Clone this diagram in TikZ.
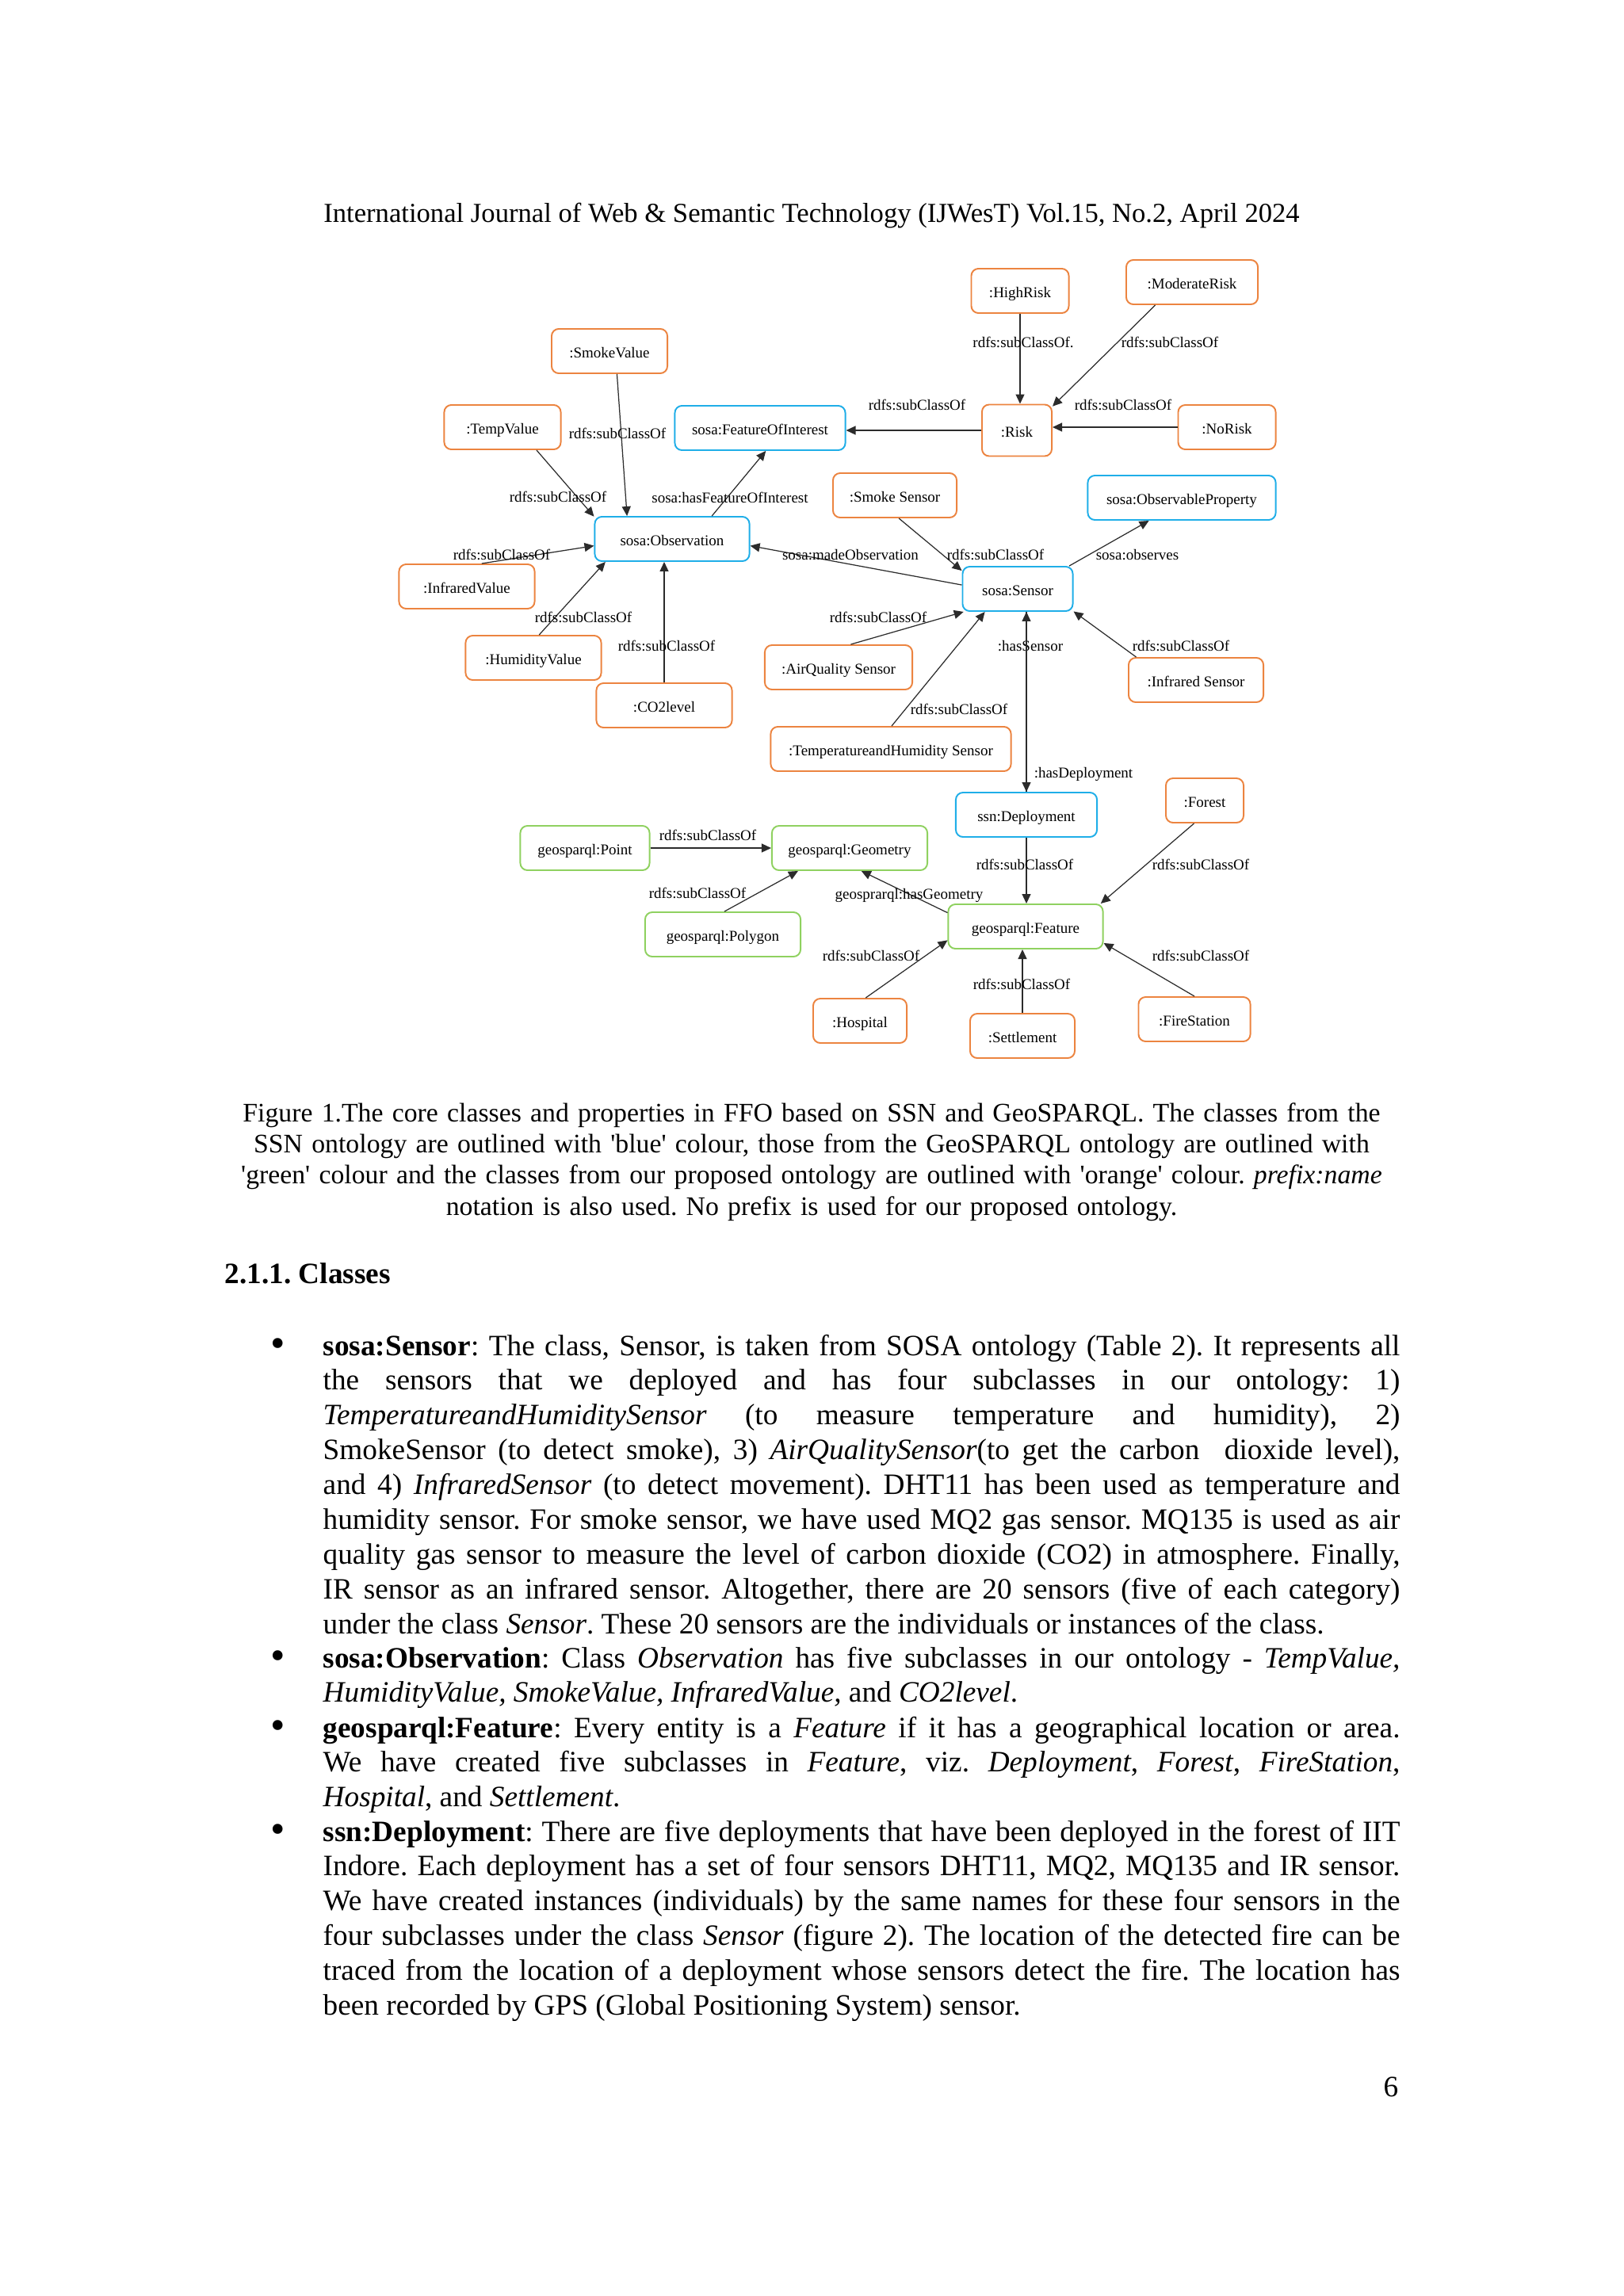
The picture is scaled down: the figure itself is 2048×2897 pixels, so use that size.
\documentclass[tikz,border=0pt]{standalone}
\usepackage{fontspec}
\setmainfont{Liberation Serif}
\usetikzlibrary{arrows.meta,calc}
\frenchspacing
\definecolor{Ssn}{HTML}{1FAEE8}
\definecolor{Geo}{HTML}{8FD160}
\definecolor{Ffo}{HTML}{EC8440}
\definecolor{Edge}{HTML}{2B2B2B}
\newcommand{\dgm}{\fontsize{5.4}{6.2}\selectfont}
\newcommand{\bodyfont}{\fontsize{10.6}{12.5}\selectfont}
\newcommand{\capfont}{\fontsize{9.6}{11.2}\selectfont}
\newcommand{\headfont}{\fontsize{9.85}{11.5}\selectfont}
\tikzset{
  cls/.style={draw,line width=0.55pt,rounded corners=0.9mm,fill=white,align=center,inner sep=1pt,minimum height=5.6mm,font=\dgm,text height=1.45ex,text depth=.35ex},
  ssn/.style={cls,draw=Ssn},
  geo/.style={cls,draw=Geo},
  ffo/.style={cls,draw=Ffo},
  arr/.style={-{Triangle[length=1.2mm,width=1.1mm]},line width=0.35pt,draw=Edge},
  lbl/.style={font=\dgm,inner sep=0pt,text=black,text height=1.45ex,text depth=.35ex},
  para/.style={anchor=base west,inner sep=0pt,text width=13.58cm,align=justify,font=\bodyfont,
    execute at begin node={\hyphenpenalty=10000 \tolerance=10000}},
  dot/.style={anchor=base,inner sep=0pt,font=\fontsize{15}{15}\selectfont},
}

\begin{document}
\begin{tikzpicture}[x=0.01cm,y=-0.01cm,line join=round]
\useasboundingbox[fill=white] (0,0) rectangle (2048,2897);
\node[anchor=base,inner sep=0pt,font=\headfont] (head) at (1024,280) {International Journal of Web \& Semantic Technology (IJWesT) Vol.15, No.2, April 2024};

\node[ffo,minimum width=14.6mm] (smokev) at (769,443) {:SmokeValue};
\node[ffo,minimum width=14.7mm] (tempv) at (634,539) {:TempValue};
\node[ssn,minimum width=21.5mm] (foi) at (959,540) {sosa:FeatureOfInterest};
\node[ssn,minimum width=19.5mm] (obs) at (848,680) {sosa:Observation};
\node[ffo,minimum width=17.1mm] (infrav) at (589,740) {:InfraredValue};
\node[ffo,minimum width=17.1mm] (humv) at (673,830) {:HumidityValue};
\node[ffo,minimum width=17.1mm] (co2) at (838,890) {:CO2level};
\node[ffo,minimum width=12.3mm] (highrisk) at (1287,367) {:HighRisk};
\node[ffo,minimum width=16.6mm] (modrisk) at (1504,356) {:ModerateRisk};
\node[ffo,minimum width=8.8mm,minimum height=6.5mm] (risk) at (1283,543) {:Risk};
\node[ffo,minimum width=12.3mm] (norisk) at (1548,539) {:NoRisk};
\node[ffo,minimum width=15.6mm] (smokes) at (1129,625) {:Smoke Sensor};
\node[ssn,minimum width=23.7mm] (obsprop) at (1491,628) {sosa:ObservableProperty};
\node[ssn,minimum width=13.9mm] (sensor) at (1284,743) {sosa:Sensor};
\node[ffo,minimum width=18.6mm] (airq) at (1058,842) {:AirQuality Sensor};
\node[ffo,minimum width=17mm] (irs) at (1509,858) {:Infrared Sensor};
\node[ffo,minimum width=30.3mm] (ths) at (1124,945) {:TemperatureandHumidity Sensor};
\node[ssn,minimum width=17.8mm] (deploy) at (1295,1028) {ssn:Deployment};
\node[ffo,minimum width=9.8mm] (forest) at (1520,1010) {:Forest};
\node[geo,minimum width=16.3mm] (point) at (738,1070) {geosparql:Point};
\node[geo,minimum width=19.6mm] (geom) at (1072,1070) {geosparql:Geometry};
\node[geo,minimum width=19.6mm] (polygon) at (912,1179) {geosparql:Polygon};
\node[geo,minimum width=19.5mm] (feature) at (1294,1169) {geosparql:Feature};
\node[ffo,minimum width=11.8mm] (hospital) at (1085,1288) {:Hospital};
\node[ffo,minimum width=13.2mm] (settle) at (1290,1307) {:Settlement};
\node[ffo,minimum width=14.1mm] (firest) at (1507,1286) {:FireStation};

\draw[arr] (smokev.288) -- (obs.153) node[lbl] (l1) at (779,545) {rdfs:subClassOf};
\draw[arr] (tempv.326) -- (obs.164) node[lbl] (l2) at (704,625) {rdfs:subClassOf};
\draw[arr] (infrav.57) -- (obs.185) node[lbl] (l3) at (633,698) {rdfs:subClassOf};
\draw[arr] (humv.76) -- (obs.199) node[lbl] (l4) at (736,777) {rdfs:subClassOf};
\draw[arr] (co2.north) -- (co2.north |- obs.south) node[lbl] (l5) at (841,813) {rdfs:subClassOf};
\draw[arr] (obs.30) -- (foi.284) node[lbl] (l6) at (921,626) {sosa:hasFeatureOfInterest};
\draw[arr] (sensor.176) -- (obs.355) node[lbl] (l7) at (1073,698) {sosa:madeObservation};
\draw[arr] (risk.west) -- (risk.west -| foi.east) node[lbl] (l8) at (1157,509) {rdfs:subClassOf};
\draw[arr] (highrisk.south) -- (highrisk.south |- risk.north) node[lbl] (l9) at (1291,430) {rdfs:subClassOf.};
\draw[arr] (modrisk.212) -- (risk.34) node[lbl] (l10) at (1476,430) {rdfs:subClassOf};
\draw[arr] (norisk.west) -- (norisk.west -| risk.east) node[lbl] (l11) at (1417,509) {rdfs:subClassOf};
\draw[arr] (smokes.280) -- (sensor.162) node[lbl] (l12) at (1256,698) {rdfs:subClassOf};
\draw[arr] (sensor.24) -- (obsprop.215) node[lbl] (l13) at (1435,698) {sosa:observes};
\draw[arr] (airq.62) -- (sensor.203) node[lbl] (l14) at (1108,777) {rdfs:subClassOf};
\draw[arr] (ths.88) -- (sensor.215) node[lbl] (l15) at (1210,893) {rdfs:subClassOf};
\draw[arr] (deploy.north) -- (deploy.north |- sensor.south) node[lbl] (l16) at (1300,813) {:hasSensor};
\draw[arr] (deploy.north |- sensor.south) -- (deploy.north) node[lbl] (l17) at (1367,973) {:hasDeployment};
\draw[arr] (irs.159) -- (sensor.338) node[lbl] (l18) at (1490,813) {rdfs:subClassOf};
\draw[arr] (deploy.south) -- (deploy.south |- feature.north) node[lbl] (l19) at (1293,1089) {rdfs:subClassOf};
\draw[arr] (forest.245) -- (feature.17) node[lbl] (l20) at (1515,1089) {rdfs:subClassOf};
\draw[arr] (feature.170) -- (geom.297) node[lbl] (l21) at (1147,1126) {geosprarql:hasGeometry};
\draw[arr] (point.east) -- (point.east -| geom.west) node[lbl] (l22) at (893,1052) {rdfs:subClassOf};
\draw[arr] (polygon.86) -- (geom.204) node[lbl] (l23) at (880,1125) {rdfs:subClassOf};
\draw[arr] (hospital.76) -- (feature.190) node[lbl] (l24) at (1099,1204) {rdfs:subClassOf};
\draw[arr] (settle.north) -- (settle.north |- feature.south) node[lbl] (l25) at (1289,1240) {rdfs:subClassOf};
\draw[arr] (firest.north) -- (feature.348) node[lbl] (l26) at (1515,1204) {rdfs:subClassOf};

\node[anchor=base,inner sep=0pt,text width=14.6cm,align=center,font=\capfont] (caption) at (1024,1415) {Figure 1.The core classes and properties in FFO based on SSN and GeoSPARQL. The classes from the\\ SSN ontology are outlined with \textquotesingle blue\textquotesingle\ colour, those from the GeoSPARQL ontology are outlined with\\ \textquotesingle green\textquotesingle\ colour and the classes from our proposed ontology are outlined with \textquotesingle orange\textquotesingle\ colour. \textit{prefix:name}\\ notation is also used. No prefix is used for our proposed ontology.};

\node[anchor=base west,inner sep=0pt,font=\bodyfont\bfseries] (sec) at (283,1619) {2.1.1. Classes};

\node[dot] (d1) at (351,1712) {\textbullet};
\node[para] (p1) at (407,1710) {\textbf{sosa:Sensor}: The class, Sensor, is taken from SOSA ontology (Table 2). It represents all\linebreak the sensors that we deployed and has four subclasses in our ontology: 1)\linebreak \textit{TemperatureandHumiditySensor} (to measure temperature and humidity), 2)\linebreak SmokeSensor (to detect smoke), 3) \textit{AirQualitySensor}(to get the carbon~ dioxide level),\linebreak and 4) \textit{InfraredSensor} (to detect movement). DHT11 has been used as temperature and\linebreak humidity sensor. For smoke sensor, we have used MQ2 gas sensor. MQ135 is used as air\linebreak quality gas sensor to measure the level of carbon dioxide (CO2) in atmosphere. Finally,\linebreak IR sensor as an infrared sensor. Altogether, there are 20 sensors (five of each category)\linebreak under the class \textit{Sensor}. These 20 sensors are the individuals or instances of the class.};

\node[dot] (d2) at (351,2106) {\textbullet};
\node[para] (p2) at (407,2104) {\textbf{sosa:Observation}: Class \textit{Observation} has five subclasses in our ontology - \textit{TempValue,}\linebreak \textit{HumidityValue, SmokeValue, InfraredValue,} and \textit{CO2level}.};

\node[dot] (d3) at (351,2194) {\textbullet};
\node[para] (p3) at (407,2192) {\textbf{geosparql:Feature}: Every entity is a \textit{Feature} if it has a geographical location or area.\linebreak We have created five subclasses in \textit{Feature}, viz. \textit{Deployment}, \textit{Forest}, \textit{FireStation},\linebreak \textit{Hospital}, and \textit{Settlement}.};

\node[dot] (d4) at (351,2325) {\textbullet};
\node[para] (p4) at (407,2323) {\textbf{ssn:Deployment}: There are five deployments that have been deployed in the forest of IIT\linebreak Indore. Each deployment has a set of four sensors DHT11, MQ2, MQ135 and IR sensor.\linebreak We have created instances (individuals) by the same names for these four sensors in the\linebreak four subclasses under the class \textit{Sensor} (figure 2). The location of the detected fire can be\linebreak traced from the location of a deployment whose sensors detect the fire. The location has\linebreak been recorded by GPS (Global Positioning System) sensor.};

\node[anchor=base east,inner sep=0pt,font=\bodyfont] (pgno) at (1765,2645) {6};
\end{tikzpicture}
\end{document}
